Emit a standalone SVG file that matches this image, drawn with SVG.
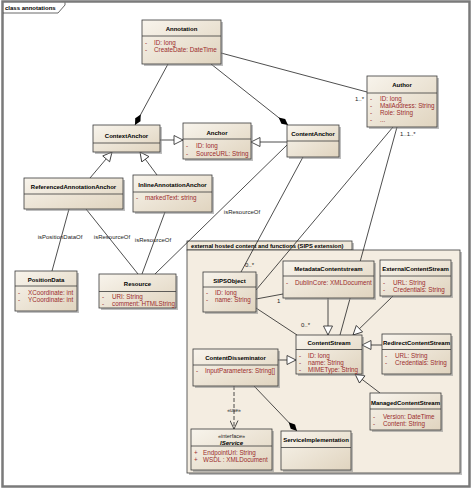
<svg xmlns="http://www.w3.org/2000/svg" width="474" height="489" viewBox="0 0 474 489">
<defs>
<linearGradient id="g" x1="0" y1="0" x2="1" y2="1">
<stop offset="0" stop-color="#f8f4ec"/>
<stop offset="1" stop-color="#e0d4bf"/>
</linearGradient>
<marker id="gen" markerUnits="userSpaceOnUse" markerWidth="11" markerHeight="11" viewBox="0 0 11 11" refX="10" refY="5" orient="auto">
<path d="M1,0.5 L10,5 L1,9.5 z" fill="#fff" stroke="#222" stroke-width="0.8"/>
</marker>
<marker id="dia" markerUnits="userSpaceOnUse" markerWidth="13" markerHeight="7" viewBox="0 0 13 7" refX="12.5" refY="3.5" orient="auto">
<path d="M0.5,3.5 L6.5,0.5 L12.5,3.5 L6.5,6.5 z" fill="#000"/>
</marker>
<marker id="opn" markerUnits="userSpaceOnUse" markerWidth="10" markerHeight="9" viewBox="0 0 10 9" refX="9" refY="4.5" orient="auto">
<path d="M0.5,0.5 L9,4.5 L0.5,8.5" fill="none" stroke="#222" stroke-width="0.8"/>
</marker>
</defs>
<style>
.bx{fill:url(#g);stroke:#3a3a3a;stroke-width:0.8}
.sh{fill:#8a8a8a;opacity:0.55}
.hl{stroke:#3a3a3a;stroke-width:0.8}
.t{font-family:"Liberation Sans",Arial,sans-serif;font-size:6px;font-weight:bold;fill:#000;text-anchor:middle}
.a{font-family:"Liberation Sans",Arial,sans-serif;font-size:6.3px;fill:#9b2d2d}
.l{font-family:"Liberation Sans",Arial,sans-serif;font-size:6px;fill:#222}
.ln{stroke:#222;stroke-width:0.8;fill:none}
</style>
<rect x="0" y="0" width="474" height="489" fill="#fff"/>
<rect x="2.5" y="1.5" width="467" height="485" fill="#fff" stroke="#7a7a7a" stroke-width="2.5"/>
<path d="M3,13 L58,13 L65,5 L65,2.5" fill="none" stroke="#444" stroke-width="0.8"/>
<text x="5" y="10" class="t" style="text-anchor:start">class annotations</text>

<g id="package">
<rect x="189" y="243" width="165" height="9" class="sh"/>
<rect x="189" y="252" width="273" height="223" class="sh"/>
<rect x="187" y="241" width="165" height="9" fill="#f1e9db" stroke="#3a3a3a" stroke-width="0.8"/>
<rect x="187" y="250" width="273" height="223" fill="#f4ede1" stroke="#3a3a3a" stroke-width="0.8"/>
<text x="191" y="248" class="t" style="text-anchor:start;font-size:5.8px">external hosted content and functions (SIPS extension)</text>
</g>

<g id="connectors">
<path class="ln" d="M168,64 L135,125" marker-end="url(#dia)"/>
<path class="ln" d="M211,64 L288,125" marker-end="url(#dia)"/>
<path class="ln" d="M221,53 L367,92"/>
<path class="ln" d="M287,142 L251,142" marker-end="url(#gen)"/>
<path class="ln" d="M160,140 L183,140" marker-end="url(#gen)"/>
<path class="ln" d="M90,178 L112,152" marker-end="url(#gen)"/>
<path class="ln" d="M157,175 L140,152" marker-end="url(#gen)"/>
<path class="ln" d="M69,209 L52,271"/>
<path class="ln" d="M86,209 L138,274"/>
<path class="ln" d="M165,212 L142,274"/>
<path class="ln" d="M287,145 L155,274"/>
<path class="ln" d="M303,157 L241,272"/>
<path class="ln" d="M393,127 L256,290"/>
<path class="ln" d="M397,127 L340,335"/>
<path class="ln" d="M256,299 L283,294"/>
<path class="ln" d="M256,308 L297,335"/>
<path class="ln" d="M328,298 L328,335" marker-end="url(#gen)"/>
<path class="ln" d="M393,296 L353,335" marker-end="url(#gen)"/>
<path class="ln" d="M382,345 L362,345" marker-end="url(#gen)"/>
<path class="ln" d="M380,393 L355,374" marker-end="url(#gen)"/>
<path class="ln" d="M278,360 L296,360" marker-end="url(#gen)"/>
<path class="ln" d="M234,386 L234,429" stroke-dasharray="4,2" marker-end="url(#opn)"/>
<path class="ln" d="M254,386 L297,431" marker-end="url(#dia)"/>
<text x="60" y="239" class="l" text-anchor="middle">isPositionDataOf</text>
<text x="112" y="239" class="l" text-anchor="middle">isResourceOf</text>
<text x="153" y="242" class="l" text-anchor="middle">isResourceOf</text>
<text x="242" y="214" class="l" text-anchor="middle">isResourceOf</text>
<text x="245" y="267" class="l">0..*</text>
<text x="355" y="101" class="l">1..*</text>
<text x="400" y="136" class="l">1..1..*</text>
<text x="277" y="303" class="l">1</text>
<text x="301" y="327" class="l">0..*</text>
<text x="234" y="412" class="l" text-anchor="middle" style="font-size:5px">«use»</text>
</g>

<g id="Annotation">
<rect x="144" y="22" width="79" height="44" class="sh"/>
<rect x="142" y="20" width="79" height="44" class="bx"/>
<line x1="142" y1="36" x2="221" y2="36" class="hl"/>
<text x="181.5" y="31" class="t">Annotation</text>
<text x="145" y="44.5" class="a">-</text><text x="154" y="44.5" class="a">ID: long</text>
<text x="145" y="51.5" class="a">-</text><text x="154" y="51.5" class="a">CreateDate: DateTime</text>
</g>

<g id="Author">
<rect x="369" y="78" width="70" height="51" class="sh"/>
<rect x="367" y="76" width="70" height="51" class="bx"/>
<line x1="367" y1="93" x2="437" y2="93" class="hl"/>
<text x="402" y="87" class="t">Author</text>
<text x="370" y="100.5" class="a">-</text><text x="380" y="100.5" class="a">ID: long</text>
<text x="370" y="107.5" class="a">-</text><text x="380" y="107.5" class="a">MailAddress: String</text>
<text x="370" y="114.5" class="a">-</text><text x="380" y="114.5" class="a">Role: String</text>
<text x="370" y="121.5" class="a">-</text><text x="380" y="121.5" class="a">...</text>
</g>

<g id="ContentAnchor">
<rect x="289" y="127" width="52" height="32" class="sh"/>
<rect x="287" y="125" width="52" height="32" class="bx"/>
<line x1="287" y1="141" x2="339" y2="141" class="hl"/>
<text x="313" y="136" class="t">ContentAnchor</text>
</g>

<g id="Anchor">
<rect x="185" y="125" width="68" height="36" class="sh"/>
<rect x="183" y="123" width="68" height="36" class="bx"/>
<line x1="183" y1="139" x2="251" y2="139" class="hl"/>
<text x="217" y="134.5" class="t">Anchor</text>
<text x="186" y="148" class="a">-</text><text x="196" y="148" class="a">ID: long</text>
<text x="186" y="155.5" class="a">-</text><text x="196" y="155.5" class="a">SourceURL: String</text>
</g>

<g id="ContextAnchor">
<rect x="95" y="127" width="67" height="27" class="sh"/>
<rect x="93" y="125" width="67" height="27" class="bx"/>
<line x1="93" y1="143" x2="160" y2="143" class="hl"/>
<text x="126.5" y="137.5" class="t">ContextAnchor</text>
</g>

<g id="ReferencedAnnotationAnchor">
<rect x="26" y="180" width="99" height="31" class="sh"/>
<rect x="24" y="178" width="99" height="31" class="bx"/>
<line x1="24" y1="194" x2="123" y2="194" class="hl"/>
<text x="73.5" y="189" class="t">ReferencedAnnotationAnchor</text>
</g>

<g id="InlineAnnotationAnchor">
<rect x="135" y="177" width="79" height="37" class="sh"/>
<rect x="133" y="175" width="79" height="37" class="bx"/>
<line x1="133" y1="192" x2="212" y2="192" class="hl"/>
<text x="172.5" y="186.5" class="t">InlineAnnotationAnchor</text>
<text x="136" y="200" class="a">-</text><text x="145" y="200" class="a">markedText: string</text>
</g>

<g id="PositionData">
<rect x="17" y="273" width="62" height="40" class="sh"/>
<rect x="15" y="271" width="62" height="40" class="bx"/>
<line x1="15" y1="286" x2="77" y2="286" class="hl"/>
<text x="46" y="281.5" class="t">PositionData</text>
<text x="18" y="294.5" class="a">-</text><text x="28" y="294.5" class="a">XCoordinate: int</text>
<text x="18" y="302" class="a">-</text><text x="28" y="302" class="a">YCoordinate: int</text>
</g>

<g id="Resource">
<rect x="101" y="276" width="77" height="34" class="sh"/>
<rect x="99" y="274" width="77" height="34" class="bx"/>
<line x1="99" y1="291.5" x2="176" y2="291.5" class="hl"/>
<text x="137.5" y="286" class="t">Resource</text>
<text x="102" y="299" class="a">-</text><text x="112" y="299" class="a">URI: String</text>
<text x="102" y="306" class="a">-</text><text x="112" y="306" class="a">comment: HTMLString</text>
</g>

<g id="SIPSObject">
<rect x="205" y="274" width="53" height="40" class="sh"/>
<rect x="203" y="272" width="53" height="40" class="bx"/>
<line x1="203" y1="287" x2="256" y2="287" class="hl"/>
<text x="229.5" y="283" class="t">SIPSObject</text>
<text x="206" y="294.5" class="a">-</text><text x="215" y="294.5" class="a">ID: long</text>
<text x="206" y="302" class="a">-</text><text x="215" y="302" class="a">name: String</text>
</g>

<g id="MetadataContentstream">
<rect x="285" y="263" width="91" height="37" class="sh"/>
<rect x="283" y="261" width="91" height="37" class="bx"/>
<line x1="283" y1="276" x2="374" y2="276" class="hl"/>
<text x="328.5" y="271" class="t">MetadataContentstream</text>
<text x="286" y="285" class="a">-</text><text x="295" y="285" class="a">DublinCore: XMLDocument</text>
</g>

<g id="ExternalContentStream">
<rect x="382" y="262" width="71" height="36" class="sh"/>
<rect x="380" y="260" width="71" height="36" class="bx"/>
<line x1="380" y1="276" x2="451" y2="276" class="hl"/>
<text x="415.5" y="270.5" class="t">ExternalContentStream</text>
<text x="383" y="284.5" class="a">-</text><text x="393" y="284.5" class="a">URL: String</text>
<text x="383" y="292" class="a">-</text><text x="393" y="292" class="a">Credentials: String</text>
</g>

<g id="ContentStream">
<rect x="298" y="337" width="66" height="39" class="sh"/>
<rect x="296" y="335" width="66" height="39" class="bx"/>
<line x1="296" y1="349.5" x2="362" y2="349.5" class="hl"/>
<text x="329" y="345" class="t">ContentStream</text>
<text x="299" y="357.5" class="a">-</text><text x="308" y="357.5" class="a">ID: long</text>
<text x="299" y="365" class="a">-</text><text x="308" y="365" class="a">name: String</text>
<text x="299" y="372" class="a">-</text><text x="308" y="372" class="a">MIMEType: String</text>
</g>

<g id="RedirectContentStream">
<rect x="384" y="336" width="69" height="40" class="sh"/>
<rect x="382" y="334" width="69" height="40" class="bx"/>
<line x1="382" y1="349.5" x2="451" y2="349.5" class="hl"/>
<text x="416.5" y="344.5" class="t">RedirectContentStream</text>
<text x="385" y="357.5" class="a">-</text><text x="395" y="357.5" class="a">URL: String</text>
<text x="385" y="365" class="a">-</text><text x="395" y="365" class="a">Credentials: String</text>
</g>

<g id="ContentDisseminator">
<rect x="195" y="351" width="85" height="37" class="sh"/>
<rect x="193" y="349" width="85" height="37" class="bx"/>
<line x1="193" y1="365" x2="278" y2="365" class="hl"/>
<text x="235.5" y="360" class="t">ContentDisseminator</text>
<text x="196" y="373" class="a">-</text><text x="205" y="373" class="a">InputParameters: String[]</text>
</g>

<g id="ManagedContentStream">
<rect x="372" y="395" width="71" height="37" class="sh"/>
<rect x="370" y="393" width="71" height="37" class="bx"/>
<line x1="370" y1="409" x2="441" y2="409" class="hl"/>
<text x="405.5" y="404.5" class="t">ManagedContentStream</text>
<text x="373" y="418.5" class="a">-</text><text x="383" y="418.5" class="a">Version: DateTime</text>
<text x="373" y="426" class="a">-</text><text x="383" y="426" class="a">Content: String</text>
</g>

<g id="IService">
<rect x="193" y="431" width="81" height="41" class="sh"/>
<rect x="191" y="429" width="81" height="41" class="bx"/>
<line x1="191" y1="446" x2="272" y2="446" class="hl"/>
<text x="231.5" y="438" class="l" text-anchor="middle" style="font-size:5.5px">«interface»</text>
<text x="231.5" y="444.5" class="t" style="font-style:italic">IService</text>
<text x="194" y="454.5" class="a">+</text><text x="203" y="454.5" class="a">EndpointUrl: String</text>
<text x="194" y="462" class="a">+</text><text x="203" y="462" class="a">WSDL : XMLDocument</text>
</g>

<g id="ServiceImplementation">
<rect x="283" y="433" width="70" height="39" class="sh"/>
<rect x="281" y="431" width="70" height="39" class="bx"/>
<line x1="281" y1="447.5" x2="351" y2="447.5" class="hl"/>
<text x="316" y="442" class="t">ServiceImplementation</text>
</g>
</svg>
